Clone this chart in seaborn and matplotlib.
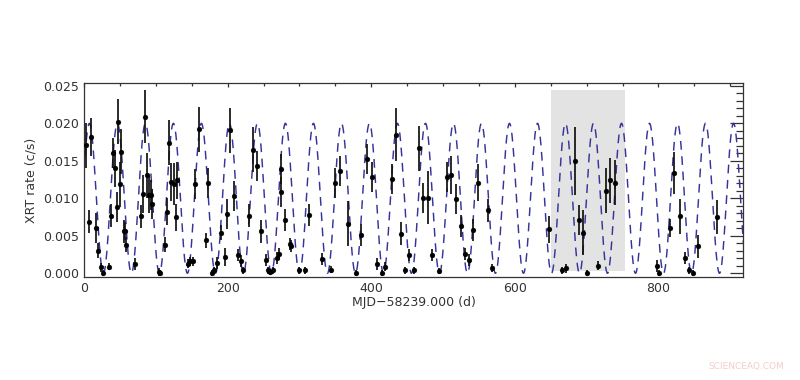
import numpy as np
import pandas as pd
import matplotlib
matplotlib.use("Agg")
import matplotlib.pyplot as plt
import seaborn as sns
from matplotlib.ticker import MultipleLocator

# Swift/XRT light curve, days since MJD 58239
days = [2.6, 7.2, 10.0, 16.5, 19.3, 23.0, 26.7, 34.2, 37.4, 40.7, 43.5, 45.3, 47.2, 50.0, 51.8,
        55.6, 57.4, 58.3, 70.4, 79.3, 82.1, 85.3, 87.7, 90.9, 93.2, 94.6, 103.9, 106.0, 112.3,
        115.1, 118.8, 121.6, 124.8, 127.6, 130.0, 144.8, 148.1, 151.4, 155.0, 160.6, 170.4,
        172.7, 178.3, 181.1, 184.8, 190.4, 196.0, 199.7, 202.9, 208.5, 214.5, 219.2, 221.5,
        229.4, 235.5, 241.0, 247.1, 254.1, 256.4, 259.6, 262.9, 268.9, 271.2, 274.1, 274.5,
        280.5, 286.6, 288.9, 299.5, 307.5, 314.0, 331.7, 343.8, 349.4, 355.9, 368.0, 378.2,
        385.6, 394.5, 400.5, 407.5, 414.5, 419.2, 428.4, 434.4, 441.0, 446.9, 452.5, 459.6,
        466.5, 472.6, 478.6, 484.7, 494.4, 505.1, 511.6, 517.7, 524.7, 530.7, 536.3, 542.3,
        548.8, 562.8, 568.8, 646.9, 665.0, 671.0, 683.6, 688.7, 694.3, 700.0, 715.3, 726.9,
        732.9, 739.0, 798.0, 801.0, 816.1, 822.2, 830.5, 837.1, 842.2, 847.8, 854.7, 881.7]
rate = [0.0171, 0.0069, 0.0182, 0.0061, 0.0030, 0.0008, 0.0000, 0.0009, 0.0077, 0.0160, 0.0140,
        0.0089, 0.0202, 0.0119, 0.0162, 0.0056, 0.0056, 0.0038, 0.0012, 0.0076, 0.0106, 0.0209,
        0.0131, 0.0105, 0.0105, 0.0093, 0.0002, 0.0000, 0.0038, 0.0082, 0.0174, 0.0122, 0.0119,
        0.0075, 0.0124, 0.0013, 0.0016, 0.0016, 0.0119, 0.0192, 0.0044, 0.0121, 0.0001, 0.0004,
        0.0014, 0.0054, 0.0022, 0.0079, 0.0191, 0.0103, 0.0024, 0.0016, 0.0004, 0.0077, 0.0165,
        0.0143, 0.0056, 0.0018, 0.0004, 0.0002, 0.0004, 0.0020, 0.0026, 0.0139, 0.0108, 0.0071,
        0.0039, 0.0037, 0.0004, 0.0004, 0.0078, 0.0019, 0.0005, 0.0120, 0.0136, 0.0066, 0.0000,
        0.0051, 0.0153, 0.0129, 0.0012, 0.0001, 0.0009, 0.0126, 0.0185, 0.0053, 0.0004, 0.0024,
        0.0004, 0.0167, 0.0100, 0.0101, 0.0025, 0.0003, 0.0128, 0.0131, 0.0099, 0.0063, 0.0026,
        0.0018, 0.0058, 0.0121, 0.0084, 0.0007, 0.0059, 0.0004, 0.0007, 0.0150, 0.0071, 0.0054,
        0.0000, 0.0010, 0.0110, 0.0124, 0.0121, 0.0010, 0.0000, 0.0060, 0.0134, 0.0076, 0.0020,
        0.0004, 0.0001, 0.0036, 0.0075]
err = [0.0030, 0.0015, 0.0025, 0.0020, 0.0010, 0.0006, 0.0004, 0.0005, 0.0015, 0.0020, 0.0025,
       0.0020, 0.0030, 0.0030, 0.0030, 0.0015, 0.0012, 0.0010, 0.0008, 0.0015, 0.0025, 0.0035,
       0.0030, 0.0025, 0.0020, 0.0020, 0.0005, 0.0004, 0.0010, 0.0018, 0.0030, 0.0025, 0.0028,
       0.0018, 0.0025, 0.0006, 0.0006, 0.0006, 0.0020, 0.0030, 0.0010, 0.0020, 0.0004, 0.0005,
       0.0008, 0.0010, 0.0012, 0.0020, 0.0030, 0.0020, 0.0008, 0.0008, 0.0005, 0.0015, 0.0030,
       0.0020, 0.0015, 0.0008, 0.0005, 0.0004, 0.0005, 0.0008, 0.0008, 0.0020, 0.0020, 0.0015,
       0.0008, 0.0008, 0.0005, 0.0005, 0.0015, 0.0008, 0.0005, 0.0020, 0.0020, 0.0030, 0.0004,
       0.0015, 0.0020, 0.0020, 0.0008, 0.0004, 0.0006, 0.0020, 0.0035, 0.0015, 0.0005, 0.0008,
       0.0005, 0.0030, 0.0020, 0.0035, 0.0008, 0.0004, 0.0020, 0.0025, 0.0020, 0.0015, 0.0008,
       0.0008, 0.0015, 0.0025, 0.0015, 0.0005, 0.0018, 0.0005, 0.0006, 0.0045, 0.0020, 0.0030,
       0.0004, 0.0006, 0.0030, 0.0030, 0.0030, 0.0008, 0.0004, 0.0012, 0.0028, 0.0023, 0.0008,
       0.0005, 0.0004, 0.0015, 0.0023]

# sinusoidal model
period = 39.0
t_peak = 7.5
amp = 0.010
t_model = np.linspace(0, 920, 3000)
model = amp * (1 + np.cos(2 * np.pi * (t_model - t_peak) / period))

# shaded interval
shade_x = [650, 753]
shade_y = [0.0003, 0.0245]

df = pd.DataFrame({"t": days, "rate": rate, "err": err})
df_model = pd.DataFrame({"t": t_model, "rate": model})

sns.set_style("white")
plt.rcParams["font.family"] = ["DejaVu Sans"]

fig = plt.figure(figsize=(8, 3.8), dpi=100)
ax = fig.add_axes([0.105, 0.271, 0.824, 0.511])

ax.fill_between(shade_x, shade_y[0], shade_y[1], color="#e3e3e3", lw=0, zorder=0)

sns.lineplot(data=df_model, x="t", y="rate", ax=ax, color="#34349c",
             lw=1.05, dashes=False, zorder=2)
ax.lines[-1].set_dashes((6, 4.5))

ax.vlines(df["t"], df["rate"] - df["err"], df["rate"] + df["err"],
          color="#111111", lw=1.25, zorder=3)
sns.scatterplot(data=df, x="t", y="rate", ax=ax, color="black", s=12,
                edgecolor="black", linewidth=0.3, zorder=4)

ax.set_xlim(0, 918)
ax.set_ylim(-0.0005, 0.0254)
ax.xaxis.set_major_locator(MultipleLocator(200))
ax.xaxis.set_minor_locator(MultipleLocator(50))
ax.yaxis.set_major_locator(MultipleLocator(0.005))
ax.yaxis.set_minor_locator(MultipleLocator(0.001))
ax.yaxis.set_major_formatter(matplotlib.ticker.FormatStrFormatter("%.3f"))

ax.tick_params(axis="both", which="both", direction="in", top=True, right=True,
               colors="#333333", labelcolor="#333333", labelsize=9, width=0.9)
ax.tick_params(axis="y", which="major", length=9.5)
ax.tick_params(axis="y", which="minor", length=4.7)
ax.tick_params(axis="x", which="major", length=3)
ax.tick_params(axis="x", which="minor", length=2)
for s in ax.spines.values():
    s.set_color("#333333")
    s.set_linewidth(0.9)

ax.set_xlabel("MJD\u221258239.000 (d)", fontsize=9, color="#333333", labelpad=1)
ax.set_ylabel("XRT rate (c/s)", fontsize=9, color="#333333", labelpad=4)

fig.text(0.98, 0.03, "SCIENCEAQ.COM", fontsize=6.5, color="#f2cccc", ha="right")

fig.savefig("out.png", dpi=100)
